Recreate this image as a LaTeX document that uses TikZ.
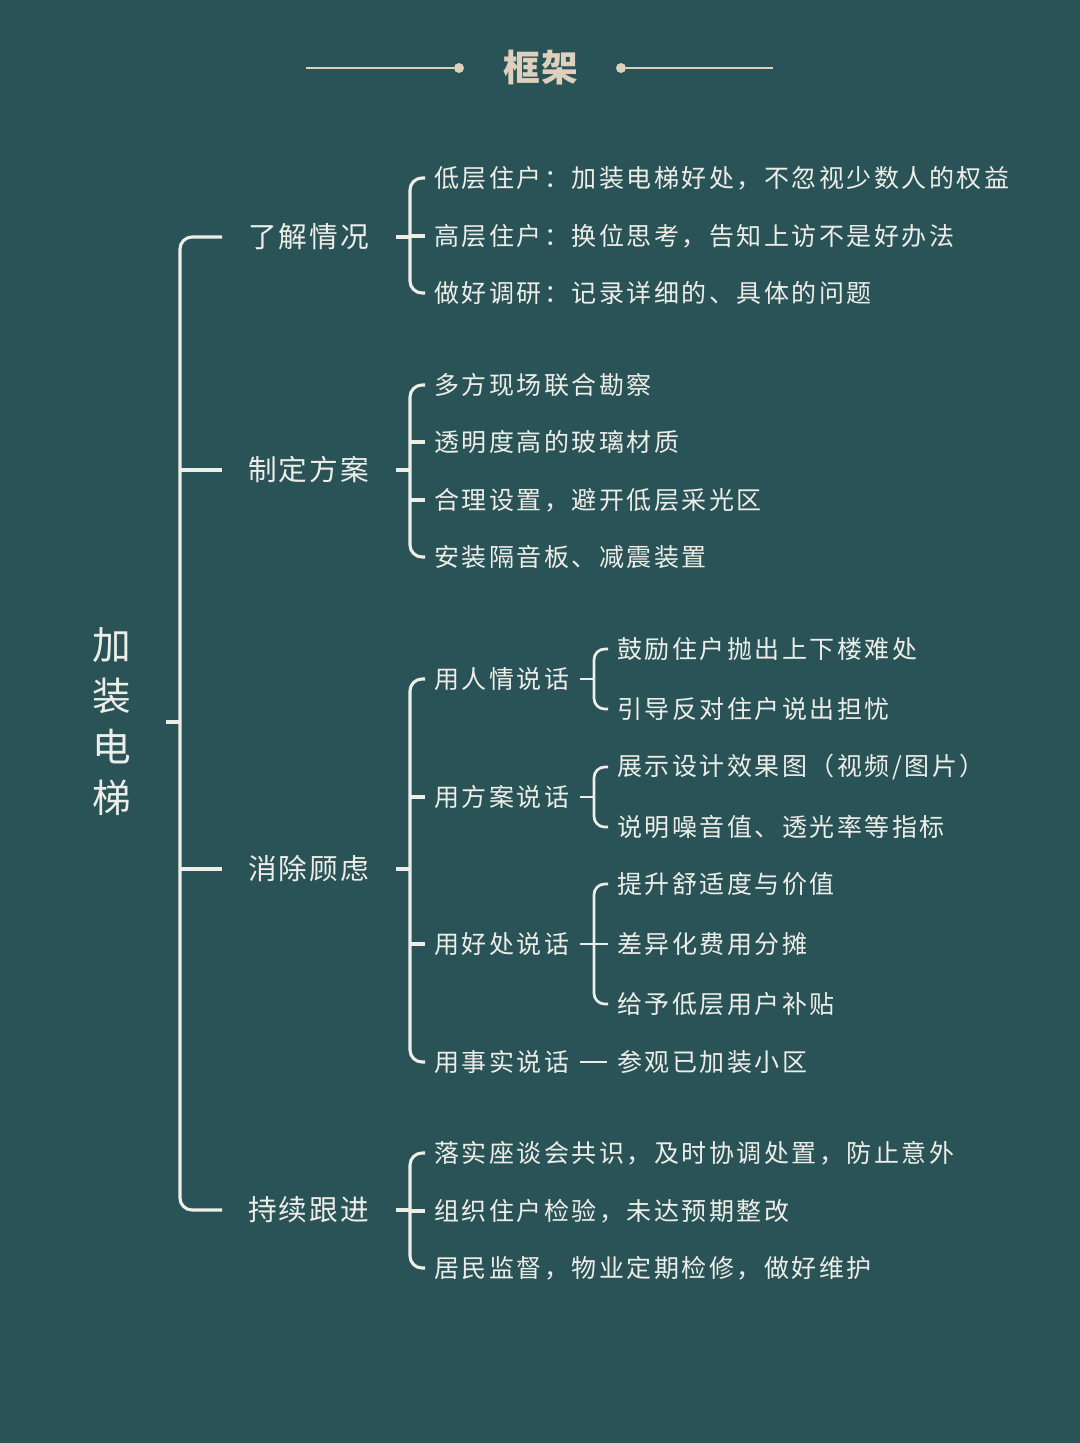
\documentclass[tikz,border=0pt]{standalone}
\usepackage{fontspec}
\usetikzlibrary{calc}
\newfontfamily\cjkroot{Noto Sans CJK SC}
\newfontfamily\cjkone[LetterSpace=7]{Noto Sans CJK SC}
\newfontfamily\cjktwo[LetterSpace=10]{Noto Sans CJK SC}
\newfontfamily\cjktitle[LetterSpace=5]{Noto Sans CJK SC}
\definecolor{bgc}{RGB}{42,83,87}
\definecolor{txc}{RGB}{238,238,232}
\definecolor{ttc}{RGB}{222,208,188}
\tikzset{
  lvone/.style={anchor=west,inner sep=0pt,text=txc,font=\cjkone\fontsize{21.5}{24}\selectfont},
  lvtwo/.style={anchor=west,inner sep=0pt,text=txc,font=\cjktwo\fontsize{18.75}{21}\selectfont},
  mainbr/.style={draw=txc,line width=2.3pt,rounded corners=9pt},
  subbr/.style={draw=txc,line width=2pt,rounded corners=8pt},
}
\begin{document}
\begin{tikzpicture}[x=0.75pt,y=-0.75pt]
\fill[bgc] (0,0) rectangle (1080,1443);
\useasboundingbox (0,0) rectangle (1080,1443);
% title
\node[inner sep=0pt,text=ttc,font=\cjktitle\bfseries\fontsize{27.5}{30}\selectfont] (title) at (541,68) {框架};
\coordinate (tl) at (306,68);
\coordinate (tr) at (773,68);
\node[circle,fill=ttc,inner sep=0pt,minimum size=7.5pt] (dl) at (459,68) {};
\node[circle,fill=ttc,inner sep=0pt,minimum size=7.5pt] (dr) at (621,68) {};
\draw[ttc,line width=1.5pt] (tl) -- (dl);
\draw[ttc,line width=1.5pt] (dr) -- (tr);
% root
\node[inner sep=0pt,text=txc,align=center,font=\cjkroot\fontsize{29}{38.25}\selectfont] (root) at (112,722) {加\\装\\电\\梯};
% level one
\node[lvone] (a) at (248,237) {了解情况};
\node[lvone] (b) at (248,470) {制定方案};
\node[lvone] (c) at (248,869) {消除顾虑};
\node[lvone] (d) at (248,1210) {持续跟进};
\draw[mainbr] (a.west -| 222,0) -| (d.west -| 180,0) -- (d.west -| 222,0);
\draw[mainbr] (b.west -| 180,0) -- (b.west -| 222,0);
\draw[mainbr] (c.west -| 180,0) -- (c.west -| 222,0);
\draw[mainbr,rounded corners=0pt] (root.center -| 166,0) -- (root.center -| 180,0);
% group a
\node[lvtwo] (a1) at (434,178) {低层住户：加装电梯好处，不忽视少数人的权益};
\node[lvtwo] (a2) at (434,236) {高层住户：换位思考，告知上访不是好办法};
\node[lvtwo] (a3) at (434,293) {做好调研：记录详细的、具体的问题};
\draw[mainbr] (a1.west -| 425,0) -| (a3.west -| 410,0) -- (a3.west -| 425,0);
\draw[mainbr] (a2.west -| 410,0) -- (a2.west -| 425,0);
\draw[mainbr] (a.west -| 396,0) -- (a.west -| 410,0);
% group b
\node[lvtwo] (b1) at (434,385) {多方现场联合勘察};
\node[lvtwo] (b2) at (434,442) {透明度高的玻璃材质};
\node[lvtwo] (b3) at (434,500) {合理设置，避开低层采光区};
\node[lvtwo] (b4) at (434,557) {安装隔音板、减震装置};
\draw[mainbr] (b1.west -| 425,0) -| (b4.west -| 410,0) -- (b4.west -| 425,0);
\draw[mainbr] (b2.west -| 410,0) -- (b2.west -| 425,0);
\draw[mainbr] (b3.west -| 410,0) -- (b3.west -| 425,0);
\draw[mainbr] (b.west -| 396,0) -- (b.west -| 410,0);
% group c
\node[lvtwo] (c1) at (434,679) {用人情说话};
\node[lvtwo] (c2) at (434,797) {用方案说话};
\node[lvtwo] (c3) at (434,944) {用好处说话};
\node[lvtwo] (c4) at (434,1062) {用事实说话};
\draw[mainbr] (c1.west -| 425,0) -| (c4.west -| 410,0) -- (c4.west -| 425,0);
\draw[mainbr] (c2.west -| 410,0) -- (c2.west -| 425,0);
\draw[mainbr] (c3.west -| 410,0) -- (c3.west -| 425,0);
\draw[mainbr] (c.west -| 396,0) -- (c.west -| 410,0);
% sub c1
\node[lvtwo] (c11) at (617,649) {鼓励住户抛出上下楼难处};
\node[lvtwo] (c12) at (617,709) {引导反对住户说出担忧};
\draw[subbr] (c11.west -| 608,0) -| (c12.west -| 594,0) -- (c12.west -| 608,0);
\draw[subbr] (c1.west -| 580,0) -- (c1.west -| 594,0);
% sub c2
\node[lvtwo] (c21) at (617,767) {展示设计效果图（视频/图片）};
\node[lvtwo] (c22) at (617,827) {说明噪音值、透光率等指标};
\draw[subbr] (c21.west -| 608,0) -| (c22.west -| 594,0) -- (c22.west -| 608,0);
\draw[subbr] (c2.west -| 580,0) -- (c2.west -| 594,0);
% sub c3
\node[lvtwo] (c31) at (617,884) {提升舒适度与价值};
\node[lvtwo] (c32) at (617,944) {差异化费用分摊};
\node[lvtwo] (c33) at (617,1004) {给予低层用户补贴};
\draw[subbr] (c31.west -| 608,0) -| (c33.west -| 594,0) -- (c33.west -| 608,0);
\draw[subbr] (c3.west -| 580,0) -- (c32.west -| 608,0);
% sub c4
\node[lvtwo] (c41) at (617,1062) {参观已加装小区};
\draw[subbr] (c4.west -| 580,0) -- (c41.west -| 607,0);
% group d
\node[lvtwo] (d1) at (434,1153) {落实座谈会共识，及时协调处置，防止意外};
\node[lvtwo] (d2) at (434,1211) {组织住户检验，未达预期整改};
\node[lvtwo] (d3) at (434,1268) {居民监督，物业定期检修，做好维护};
\draw[mainbr] (d1.west -| 425,0) -| (d3.west -| 410,0) -- (d3.west -| 425,0);
\draw[mainbr] (d2.west -| 410,0) -- (d2.west -| 425,0);
\draw[mainbr] (d.west -| 396,0) -- (d.west -| 410,0);
\end{tikzpicture}
\end{document}
